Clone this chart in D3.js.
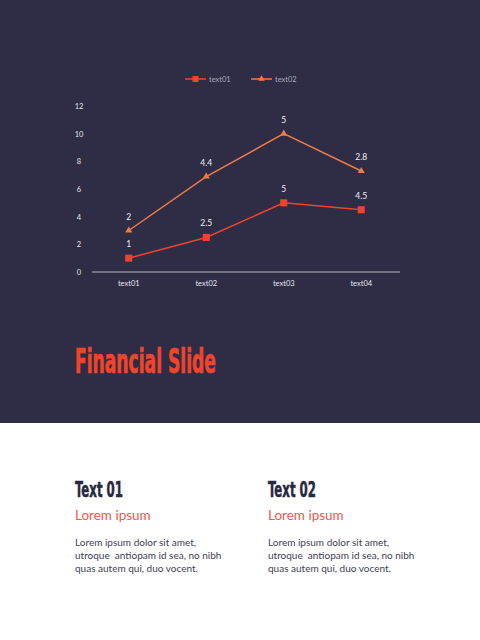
<!DOCTYPE html>
<html>
<head>
<meta charset="utf-8">
<script src="https://cdn.jsdelivr.net/npm/d3@7"></script>
<style>
  html, body { margin: 0; padding: 0; background: #fff; }
  svg { display: block; }
</style>
</head>
<body>
<svg id="slide" width="480" height="640"></svg>
<script>
// chart data
var categories = ["text01", "text02", "text03", "text04"];
var seriesNames = ["text01", "text02"];
var text01 = [1, 2.5, 5, 4.5];
var text02 = [2, 4.4, 5, 2.8];
var yTicks = [0, 2, 4, 6, 8, 10, 12];

var colors = { text01: "#f0432b", text02: "#f07a46" };

var svg = d3.select("#slide");

// dark top panel
svg.append("rect").attr("x", 0).attr("y", 0).attr("width", 480).attr("height", 423).attr("fill", "#2e2d45");
svg.append("rect").attr("x", 0).attr("y", 423).attr("width", 480).attr("height", 217).attr("fill", "#ffffff");

var x = d3.scaleBand().domain(categories).range([90, 400]);
var y = d3.scaleLinear().domain([0, 12]).range([272, 106]);

// stacked line: second series sits on top of first
var stacked = d3.stack().keys(seriesNames)(categories.map(function (c, i) {
    return { cat: c, text01: text01[i], text02: text02[i] };
}));

var g = svg.append("g").attr("class", "chart");

// y axis labels (no line)
var yAxis = d3.axisLeft(y).tickValues(yTicks).tickSize(0).tickPadding(0);
g.append("g").attr("transform", "translate(79,0)").call(yAxis)
    .call(function (a) {
        a.select(".domain").remove();
        a.selectAll("text").attr("text-anchor", "middle").attr("fill", "#e6e6ee")
            .attr("font-family", "Lato, 'Open Sans', sans-serif").attr("font-size", 7.5);
    });

// x axis
var xAxis = d3.axisBottom(x).tickSize(0).tickPadding(9);
g.append("g").attr("transform", "translate(0,272)").call(xAxis)
    .call(function (a) {
        a.select(".domain").attr("stroke", "#8c8c9c").attr("stroke-width", 1.5).attr("d", "M92,0H400");
        a.selectAll("text").attr("fill", "#e6e6ee")
            .attr("font-family", "Lato, 'Open Sans', sans-serif").attr("font-size", 7.5);
    });

var line = d3.line()
    .x(function (d) { return x(d.data.cat) + x.bandwidth() / 2; })
    .y(function (d) { return y(d[1]); });

stacked.forEach(function (s, si) {
    var col = colors[s.key];
    var raw = si == 0 ? text01 : text02;
    var sg = g.append("g").attr("class", "series-" + s.key);
    sg.append("path").datum(s).attr("d", line).attr("fill", "none")
        .attr("stroke", col).attr("stroke-width", 1.5);
    sg.selectAll("path.mk").data(s).enter().append("path").attr("class", "mk")
        .attr("d", d3.symbol().type(si == 0 ? d3.symbolSquare : d3.symbolTriangle).size(si == 0 ? 50 : 22))
        .attr("transform", function (d) { return `translate(${x(d.data.cat) + x.bandwidth() / 2},${y(d[1])})`; })
        .attr("fill", col);
    sg.selectAll("text").data(s).enter().append("text")
        .attr("x", function (d) { return x(d.data.cat) + x.bandwidth() / 2; })
        .attr("y", function (d) { return y(d[1]) - 11; })
        .attr("text-anchor", "middle").attr("fill", "#eeeef4")
        .attr("font-family", "Lato, 'Open Sans', sans-serif").attr("font-size", 8.5)
        .text(function (d, i) { return raw[i]; });
});

// legend
var legend = svg.append("g").attr("class", "legend");
var legendX = [185, 251];
seriesNames.forEach(function (name, i) {
    var lg = legend.append("g").attr("transform", `translate(${legendX[i]},79)`);
    lg.append("line").attr("x1", 0).attr("x2", 21).attr("y1", 0).attr("y2", 0)
        .attr("stroke", colors[name]).attr("stroke-width", 1.5);
    lg.append("path").attr("transform", "translate(10.5,0)")
        .attr("d", d3.symbol().type(i == 0 ? d3.symbolSquare : d3.symbolTriangle).size(i == 0 ? 36 : 18))
        .attr("fill", colors[name]);
    lg.append("text").attr("x", 24).attr("y", 2.6).attr("fill", "#a9a9bb")
        .attr("font-family", "Lato, 'Open Sans', sans-serif").attr("font-size", 7.5).text(name);
});

// title
svg.append("text").attr("x", 75).attr("y", 373)
    .attr("font-family", "'Liberation Sans Narrow', 'DejaVu Sans Condensed', sans-serif")
    .attr("font-weight", "bold").attr("font-size", 33)
    .attr("textLength", 141).attr("lengthAdjust", "spacingAndGlyphs")
    .attr("fill", "#f0452b").attr("stroke", "#f0452b").attr("stroke-width", 0.7)
    .text("Financial Slide");

// lower text blocks
var blocks = [
    { x: 75, head: "Text 01" },
    { x: 268, head: "Text 02" }
];
var bodyLines = ["Lorem ipsum dolor sit amet,", "utroque  antiopam id sea, no nibh", "quas autem qui, duo vocent."];
blocks.forEach(function (b) {
    svg.append("text").attr("x", b.x).attr("y", 497)
        .attr("font-family", "'Liberation Sans Narrow', 'DejaVu Sans Condensed', sans-serif")
        .attr("font-weight", "bold").attr("font-size", 21)
        .attr("textLength", 48).attr("lengthAdjust", "spacingAndGlyphs")
        .attr("fill", "#262940").attr("stroke", "#262940").attr("stroke-width", 0.5)
        .text(b.head);
    svg.append("text").attr("x", b.x).attr("y", 520)
        .attr("font-family", "Lato, 'Open Sans', sans-serif").attr("font-size", 13.5)
        .attr("fill", "#f0584a").text("Lorem ipsum");
    bodyLines.forEach(function (t, i) {
        svg.append("text").attr("x", b.x).attr("y", 546 + i * 13)
            .attr("font-family", "Lato, 'Open Sans', sans-serif").attr("font-size", 10)
            .attr("fill", "#3e4055").attr("xml:space", "preserve").text(t);
    });
});
</script>
</body>
</html>
